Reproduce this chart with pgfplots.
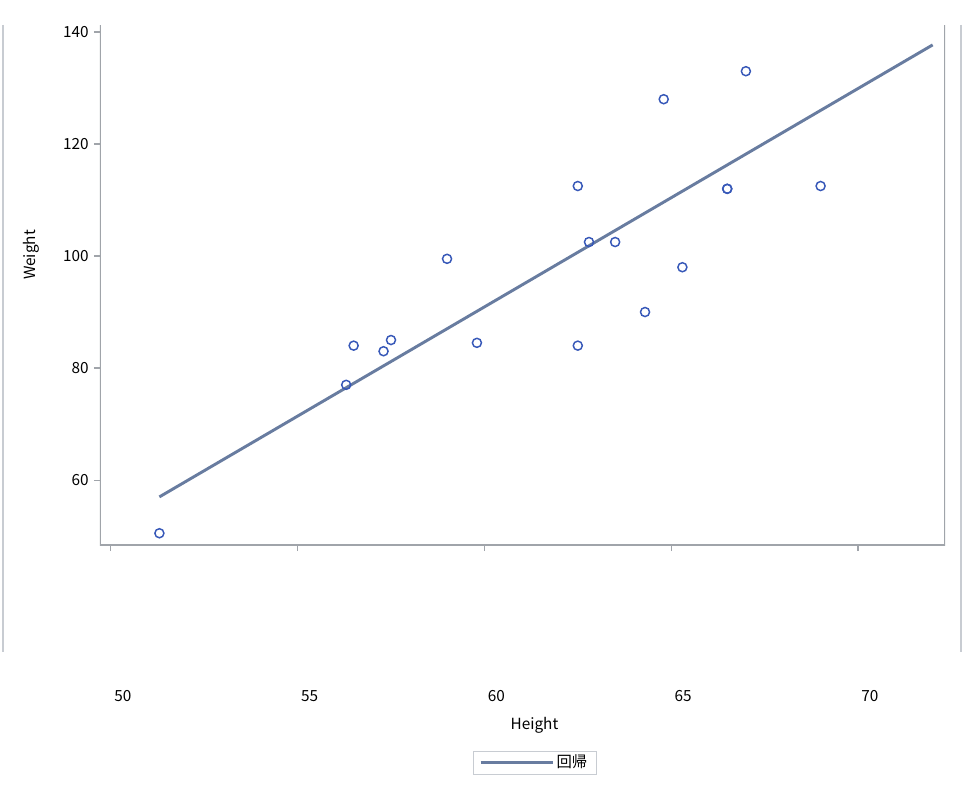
\documentclass[border=0pt]{standalone}
\usepackage{fontspec}
\setmainfont{Noto Sans CJK JP}
\usepackage{pgfplots}
\pgfplotsset{compat=1.18}

\definecolor{fitline}{RGB}{104,124,160}
\definecolor{markblue}{RGB}{55,88,184}
\definecolor{axgray}{RGB}{160,164,170}
\definecolor{framegray}{RGB}{200,204,210}

\begin{document}
\fontsize{11.5}{13}\selectfont
\begin{tikzpicture}
  \begin{axis}[
      scale only axis,
      width=633.75pt, height=390pt,
      xmin=49.71, xmax=72.33, ymin=48.4, ymax=141.25,
      xtick={50,55,60,65,70}, ytick={60,80,100,120,140},
      xtick pos=bottom, ytick pos=left,
      tick align=outside, major tick length=4.5pt,
      tick style={axgray, line width=0.8pt},
      axis line style={draw=none},
      /pgf/number format/assume math mode=true,
      xticklabel style={anchor=center, yshift=-109pt, xshift=9pt},
      xlabel={Height}, ylabel={Weight},
      xlabel style={at={(axis description cs:0.5,0)}, anchor=center, yshift=-135.5pt, xshift=9pt},
      ylabel style={at={(axis description cs:-0.0817,0.5577)}, anchor=center},
      legend style={at={(axis description cs:0.5142,-0.4183)}, anchor=center,
        draw=framegray, line width=0.6pt, inner xsep=4.5pt, inner ysep=1pt},
      legend image code/.code={\draw[#1] (0pt,0pt) -- (54pt,0pt);},
      clip=true,
    ]
    \addplot[only marks, mark=o, mark size=3.4pt, markblue,
      mark options={line width=1.1pt}, forget plot] table[row sep=\\]{
      x y \\
      69.0 112.5 \\
      56.5 84.0 \\
      65.3 98.0 \\
      62.8 102.5 \\
      63.5 102.5 \\
      57.3 83.0 \\
      59.8 84.5 \\
      62.5 112.5 \\
      62.5 84.0 \\
      59.0 99.5 \\
      51.3 50.5 \\
      64.3 90.0 \\
      56.3 77.0 \\
      66.5 112.0 \\
      72.0 150.0 \\
      64.8 128.0 \\
      67.0 133.0 \\
      57.5 85.0 \\
      66.5 112.0 \\
    };
    \addplot[fitline, line width=2.2pt] table[row sep=\\]{
      x y \\
      51.3 56.99 \\
      72.0 137.70 \\
    };
    \addlegendentry{回帰}
    \draw[axgray, line width=0.9pt] (rel axis cs:0,1) -- (rel axis cs:0,0)
      -- (rel axis cs:1,0) -- (rel axis cs:1,1);
  \end{axis}
  \draw[framegray, line width=0.9pt] (-72.75pt,390pt) -- (-72.75pt,-80.25pt);
  \draw[framegray, line width=0.9pt] (645.75pt,390pt) -- (645.75pt,-80.25pt);
  \pgfresetboundingbox
  \path (-75pt,-192pt) rectangle (653.25pt,408.75pt);
\end{tikzpicture}
\end{document}
